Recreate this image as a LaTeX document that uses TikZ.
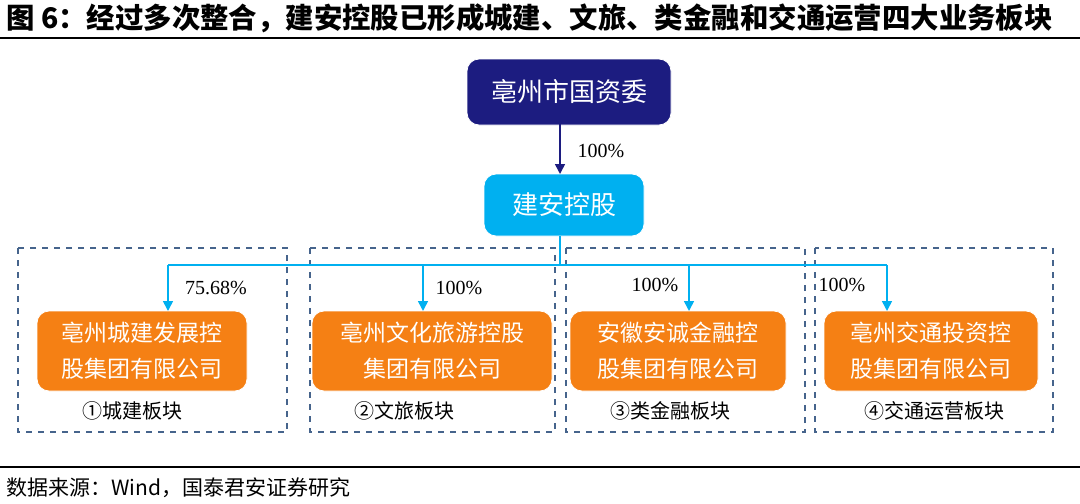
\documentclass[tikz,border=0pt]{standalone}
\usepackage{fontspec}
\usepackage{tikz}
\usetikzlibrary{arrows.meta}
\setmainfont{Liberation Serif}
\newfontfamily\cjk{Noto Sans CJK SC}
\definecolor{navy}{RGB}{28,28,128}
\definecolor{cyanbox}{RGB}{0,176,240}
\definecolor{orangebox}{RGB}{245,128,20}
\definecolor{dashblue}{RGB}{70,100,140}
\tikzset{
  font={\cjk\fontsize{10pt}{12pt}\selectfont},
  org/.style={draw=white,rounded corners=6pt,text=white,align=center,inner sep=0pt,
    font={\cjk\fontsize{11.5pt}{18pt}\selectfont}},
  seg/.style={draw=dashblue,dashed,line width=0.6pt},
  link/.style={draw=cyanbox,line width=0.8pt,-{Triangle[length=5pt,width=5pt]}},
  pct/.style={font={\fontsize{10pt}{12pt}\selectfont},inner sep=0pt}}
\begin{document}
\begin{tikzpicture}[x=0.5pt,y=-0.5pt]
\useasboundingbox (0,0) rectangle (1080,503);
\node[anchor=west,inner sep=0pt,font={\cjk\bfseries\fontsize{14.2pt}{15pt}\selectfont}] (title) at (6,18) {图 6：经过多次整合，建安控股已形成城建、文旅、类金融和交通运营四大业务板块};
\draw[line width=0.6pt] (0,38) -- (1080,38);
\draw[line width=0.6pt] (0,467) -- (1080,467);
\node[anchor=west,inner sep=0pt,font={\cjk\fontsize{10.5pt}{12pt}\selectfont}] (src) at (6,488) {数据来源：Wind，国泰君安证券研究};
% top levels
\node[org,fill=navy,minimum width=102pt,minimum height=33pt,font={\cjk\fontsize{13pt}{14pt}\selectfont}] (sasac) at (569,92) {亳州市国资委};
\node[org,fill=cyanbox,minimum width=80pt,minimum height=31pt,font={\cjk\fontsize{13pt}{14pt}\selectfont}] (jianan) at (564,205) {建安控股};
\draw[navy,line width=0.8pt,-{Triangle[length=5pt,width=5pt]}] (560,124) -- (560,174);
\node[pct] (p0) at (601,151) {100\%};
% segments
\draw[seg] (18,248) rectangle (287,432);
\draw[seg] (310,248) rectangle (555,432);
\draw[seg] (566,248) rectangle (805,432);
\draw[seg] (815,248) rectangle (1053,432);
\node[org,fill=orangebox,minimum width=105pt,minimum height=40pt] (c1) at (142,351) {亳州城建发展控\\股集团有限公司};
\node[org,fill=orangebox,minimum width=120pt,minimum height=40pt] (c2) at (432,351) {亳州文化旅游控股\\集团有限公司};
\node[org,fill=orangebox,minimum width=108pt,minimum height=40pt] (c3) at (678,351) {安徽安诚金融控\\股集团有限公司};
\node[org,fill=orangebox,minimum width=107pt,minimum height=40pt] (c4) at (931,351) {亳州交通投资控\\股集团有限公司};
\node (s1) at (132,411) {①城建板块};
\node (s2) at (404,411) {②文旅板块};
\node (s3) at (670,411) {③类金融板块};
\node (s4) at (934,411) {④交通运营板块};
% links
\coordinate (bus) at (560,265);
\draw[cyanbox,line width=0.8pt] (jianan.south -| bus) -- (bus);
\draw[cyanbox,line width=0.8pt] (168,265) -- (887,265);
\draw[link] (168,265) -- (168,311);
\draw[link] (423,265) -- (423,311);
\draw[link] (689,265) -- (689,311);
\draw[link] (887,265) -- (887,311);
\node[pct] (p1) at (216,288) {75.68\%};
\node[pct] (p2) at (459,288) {100\%};
\node[pct] (p3) at (655,285) {100\%};
\node[pct] (p4) at (842,285) {100\%};
\end{tikzpicture}
\end{document}
